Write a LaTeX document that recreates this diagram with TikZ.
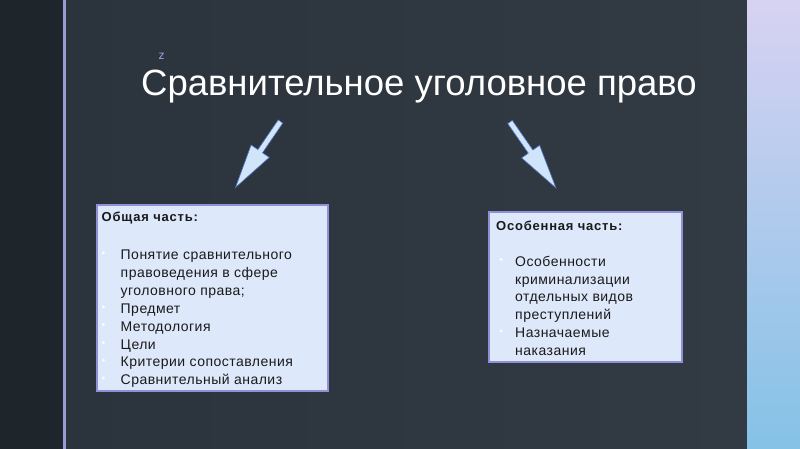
\documentclass[tikz,border=0pt]{standalone}
\usepackage{fontspec}
\setmainfont{Liberation Sans}
\newfontfamily\headfont[LetterSpace=6]{Liberation Sans}
\newfontfamily\itemfont[LetterSpace=3.4]{Liberation Sans}
\begin{document}
\begin{tikzpicture}[x=1pt,y=-1pt,
  boxstyle/.style={fill=boxfill,draw=boxedge,line width=1.4pt},
  headtxt/.style={anchor=base west,inner sep=0pt,text=boxtext,font=\headfont\fontsize{13}{15}\selectfont\bfseries},
  itemtxt/.style={anchor=base west,inner sep=0pt,text=boxtext,font=\itemfont\fontsize{14}{16}\selectfont},
  bulletdot/.style={fill=white,draw=none},
  arrowstyle/.style={fill=arrowfill,draw=arrowedge,line width=0.6pt,line join=miter}]
\definecolor{leftstrip}{HTML}{1F262B}
\definecolor{mainbg}{HTML}{2B333C}
\definecolor{mainbgR}{HTML}{323A44}
\definecolor{vline}{HTML}{9A9AD8}
\definecolor{striptop}{HTML}{D8D2F2}
\definecolor{stripbot}{HTML}{84C2E6}
\definecolor{boxfill}{HTML}{DDE8FB}
\definecolor{boxedge}{HTML}{9090D8}
\definecolor{boxtext}{HTML}{1A1A1A}
\definecolor{arrowfill}{HTML}{D0E4FA}
\definecolor{arrowedge}{HTML}{4A70C0}
\definecolor{zcol}{HTML}{A0A0E0}
\useasboundingbox (0,0) rectangle (800,449);
% backgrounds
\fill[leftstrip] (0,0) rectangle (63,449);
\shade[left color=mainbg,right color=mainbgR] (63,0) rectangle (747,449);
\fill[vline] (63,0) rectangle (66,449);
\shade[top color=striptop,bottom color=stripbot] (747,0) rectangle (800,449);
% title
\node[anchor=base,inner sep=0pt,text=white,font=\fontsize{36.5}{40}\selectfont] (title) at (419,95.7) {Сравнительное уголовное право};
\node[anchor=base,inner sep=0pt,text=zcol,font=\fontsize{12}{14}\selectfont] (zmark) at (161.5,59.3) {z};
% arrows
\draw[arrowstyle] (282.8,123.1) -- (262.5,152.8) -- (269.3,157.4) -- (235.5,187.5) -- (251.1,145.0) -- (257.9,149.6) -- (278.2,119.9) -- cycle;
\draw[arrowstyle] (512.3,120.4) -- (532.9,150.0) -- (539.6,145.3) -- (556,188) -- (521.6,157.9) -- (528.3,153.2) -- (507.7,123.6) -- cycle;
% left box
\draw[boxstyle] (97,205) rectangle (328,391);
\node[headtxt] (lh) at (101.5,221.7) {Общая часть:};
\node[itemtxt] (l1) at (120.5,259.3) {Понятие сравнительного};
\node[itemtxt] (l2) at (120.5,277.7) {правоведения в сфере};
\node[itemtxt] (l3) at (120.5,295.7) {уголовного права;};
\node[itemtxt] (l4) at (120.5,313.3) {Предмет};
\node[itemtxt] (l5) at (120.5,331) {Методология};
\node[itemtxt] (l6) at (120.5,349) {Цели};
\node[itemtxt] (l7) at (120.5,366.7) {Критерии сопоставления};
\node[itemtxt] (l8) at (120.5,384.3) {Сравнительный анализ};
\foreach \yy in {259.3,313.3,331,349,366.7,384.3} \fill[bulletdot] (103.5,\yy-6.5) circle (1.5);
% right box
\draw[boxstyle] (489,212) rectangle (682,362);
\node[headtxt] (rh) at (496,230) {Особенная часть:};
\node[itemtxt] (r1) at (515,266) {Особенности};
\node[itemtxt] (r2) at (515,284) {криминализации};
\node[itemtxt] (r3) at (515,301.7) {отдельных видов};
\node[itemtxt] (r4) at (515,319.3) {преступлений};
\node[itemtxt] (r5) at (515,337.3) {Назначаемые};
\node[itemtxt] (r6) at (515,355) {наказания};
\foreach \yy in {266,337.3} \fill[bulletdot] (501,\yy-6.5) circle (1.5);
\end{tikzpicture}
\end{document}
